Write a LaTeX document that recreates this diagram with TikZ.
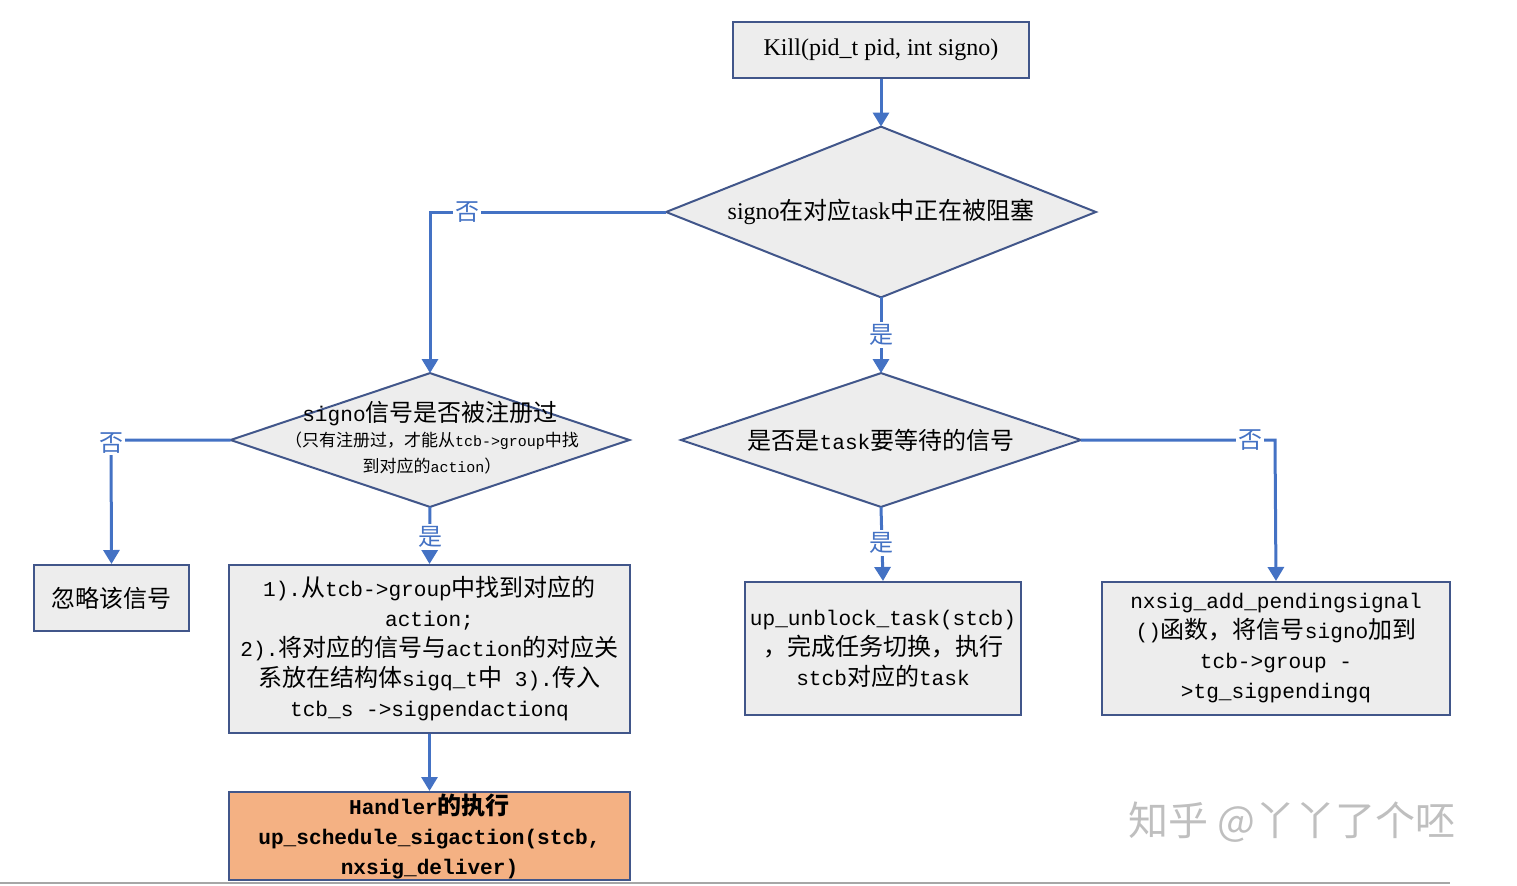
\documentclass[tikz,border=0pt]{standalone}
\usepackage{fontspec}
\setmainfont{Liberation Serif}
\newfontfamily\cjk{Noto Sans CJK SC}
\newfontfamily\mono{Liberation Mono}[Scale=0.88]
\newcommand\zh[1]{{\cjk #1}}
\usetikzlibrary{arrows.meta,shapes.geometric}
\definecolor{ln}{HTML}{4472C4}
\definecolor{bd}{HTML}{41568A}
\definecolor{bx}{HTML}{EDEDED}
\definecolor{og}{HTML}{F4B183}
\begin{document}
\begin{tikzpicture}[x=0.5pt,y=-0.5pt,
  box/.style={draw=bd,line width=1pt,fill=bx,inner sep=0pt,align=center,font=\mono\fontsize{12}{15}\selectfont},
  dia/.style={rectangle,inner sep=0pt,align=center},
  dshape/.style={draw=bd,line width=1pt,fill=bx},
  arr/.style={draw=ln,line width=1.5pt,-{Triangle[length=7pt,width=8pt]}},
  lab/.style={fill=white,inner sep=1pt,text=ln,font=\cjk\fontsize{12}{13}\selectfont}]
\useasboundingbox (0,0) rectangle (1517,885);
\node[box,font=\fontsize{12}{15}\selectfont,minimum width=148pt,minimum height=28pt] (kill) at (881,50) {Kill(pid\_t pid, int signo)};
\node[dia,minimum width=214.5pt,minimum height=85pt] (d1) at (881,212) {};
\node[dia,minimum width=199pt,minimum height=66.5pt] (d2) at (430,440) {};
\node[dia,minimum width=199.5pt,minimum height=66.5pt] (d3) at (881,440) {};
\foreach \d in {d1,d2,d3}
  \draw[dshape] (\d.west) -- (\d.north) -- (\d.east) -- (\d.south) -- cycle;
\node[font=\fontsize{12}{15}\selectfont] (t1) at (881,212) {signo\zh{在对应}task\zh{中正在被阻塞}};
\node[font=\mono\fontsize{12}{15}\selectfont] (t3) at (881,440) {\zh{是否是}task\zh{要等待的信号}};
\node[align=center,font=\mono\fontsize{12}{13}\selectfont] (t2a) at (430,414) {signo\zh{信号是否被注册过}};
\node[align=center,font=\mono\fontsize{8.5}{13}\selectfont] (t2b) at (432,453) {\zh{（只有注册过，才能从}tcb->group\zh{中找}\\\zh{到对应的}action\zh{）}};
\node[box,minimum width=77.5pt,minimum height=33pt] (ign) at (111.5,598) {\zh{忽略该信号}};
\node[box,minimum width=200.5pt,minimum height=84pt] (act) at (429.5,649) {1).\zh{从}tcb->group\zh{中找到对应的}\\action;\\2).\zh{将对应的信号与}action\zh{的对应关}\\\zh{系放在结构体}sigq\_t\zh{中} 3).\zh{传入}\\tcb\_s ->sigpendactionq};
\node[box,fill=og,minimum width=200.5pt,minimum height=44pt,font=\mono\bfseries\fontsize{12}{15}\selectfont] (hd) at (429.5,836) {Handler\zh{\bfseries 的执行}\\up\_schedule\_sigaction(stcb,\\nxsig\_deliver)};
\node[box,minimum width=138pt,minimum height=66.5pt] (ub) at (883,648.5) {up\_unblock\_task(stcb)\\\zh{，完成任务切换，执行}\\stcb\zh{对应的}task};
\node[box,minimum width=174pt,minimum height=66.5pt] (nx) at (1276,648.5) {nxsig\_add\_pendingsignal\\()\zh{函数，将信号}signo\zh{加到}\\tcb->group -\\>tg\_sigpendingq};
\coordinate (c1) at (430,212);
\coordinate (c2) at (111,440);
\coordinate (c3) at (1275,440);
\draw[arr] (kill) -- (d1.north);
\draw[arr] (d1.west) -- (c1) -- (d2.north);
\draw[arr] (d1.south) -- (d3.north);
\draw[arr] (d2.west) -- (c2) -- (ign.north);
\draw[arr] (d2.south) -- (act.north);
\draw[arr] (d3.south) -- (ub.north);
\draw[arr] (d3.east) -- (c3) -- (nx.north);
\draw[arr] (act) -- (hd);
\node[lab] at (467,212) {否};
\node[lab] at (881,335) {是};
\node[lab] at (111,443) {否};
\node[lab] at (430,537) {是};
\node[lab] at (881,543) {是};
\node[lab] at (1250,440) {否};
\node[text=black!25,font=\cjk\fontsize{20}{24}\selectfont] (wm) at (1292,822) {知乎 @丫丫了个呸};
\draw[black!35,line width=1pt] (0,883) -- (1450,883);
\end{tikzpicture}
\end{document}
